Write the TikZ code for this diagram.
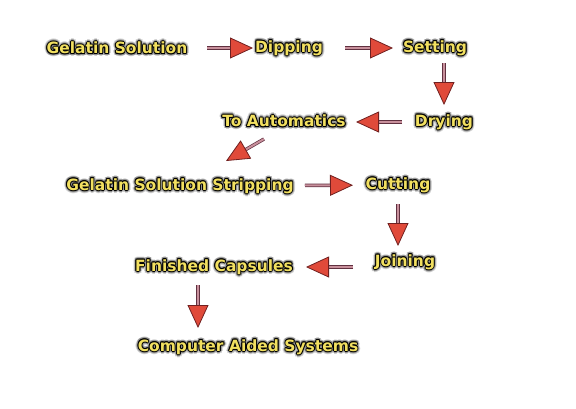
\documentclass[tikz,border=0pt]{standalone}
\usepackage{fontspec}
\setmainfont{DejaVu Sans}
\usetikzlibrary{arrows.meta,calc}
\definecolor{txtc}{HTML}{F2E060}
\definecolor{glowa}{HTML}{D0D0D0}
\definecolor{glowb}{HTML}{909090}
\definecolor{shaftc}{HTML}{C8909C}
\definecolor{shaftout}{HTML}{603040}
\definecolor{headc}{HTML}{E04A3A}
\definecolor{headout}{HTML}{702020}
\newcommand\shb[3]{\rlap{\kern#1\raisebox{#2}{\color{#3}\copy0}}}
\newcommand\fancy[1]{\setbox0\hbox{\bfseries #1}\leavevmode
  \shb{-2.8pt}{0pt}{glowa}\shb{2.8pt}{0pt}{glowa}\shb{0pt}{2.8pt}{glowa}\shb{0pt}{-2.8pt}{glowa}%
  \shb{-2pt}{2pt}{glowa}\shb{2pt}{2pt}{glowa}\shb{-2pt}{-2pt}{glowa}\shb{2pt}{-2pt}{glowa}%
  \shb{-1.8pt}{0pt}{glowb}\shb{1.8pt}{0pt}{glowb}\shb{0pt}{1.8pt}{glowb}\shb{0pt}{-1.8pt}{glowb}%
  \shb{-1.3pt}{1.3pt}{glowb}\shb{1.3pt}{1.3pt}{glowb}\shb{-1.3pt}{-1.3pt}{glowb}\shb{1.3pt}{-1.3pt}{glowb}%
  \shb{-0.9pt}{0pt}{black}\shb{0.9pt}{0pt}{black}\shb{0pt}{0.9pt}{black}\shb{0pt}{-0.9pt}{black}%
  \shb{-0.65pt}{0.65pt}{black}\shb{0.65pt}{0.65pt}{black}\shb{-0.65pt}{-0.65pt}{black}\shb{0.65pt}{-0.65pt}{black}%
  {\color{txtc}\copy0}}
\tikzset{
  lbl/.style={inner sep=0pt, font=\fontsize{15.5}{18}\selectfont},
  flow/.style={draw=shaftc, line width=2pt,
    preaction={draw=shaftout, line width=3.4pt, -, shorten >=12pt},
    -{Triangle[length=23pt,width=21pt,fill=headc,color=headout,line width=0.8pt]}},
}
\begin{document}
\begin{tikzpicture}[x=1pt,y=-1pt]
\useasboundingbox[fill=white] (0,0) rectangle (576,408);
\node[lbl] (gs)  at (117,48)  {\fancy{Gelatin Solution}};
\node[lbl] (dip) at (289,48)  {\fancy{Dipping}};
\node[lbl] (set) at (435,48)  {\fancy{Setting}};
\node[lbl] (dry) at (444,122) {\fancy{Drying}};
\node[lbl] (ta)  at (284,121) {\fancy{To Automatics}};
\node[lbl] (gss) at (180,186) {\fancy{Gelatin Solution Stripping}};
\node[lbl] (cut) at (398,185) {\fancy{Cutting}};
\node[lbl] (joi) at (405,262) {\fancy{Joining}};
\node[lbl] (fc)  at (214,267) {\fancy{Finished Capsules}};
\node[lbl] (cas) at (248,347) {\fancy{Computer Aided Systems}};
\coordinate (a5s) at (264,139);
\coordinate (a5e) at (226,161);
\coordinate (a9) at ([xshift=-16pt]fc.center);
\draw[flow] ($(gs)!90pt!(dip)$) -- ($(dip)!36pt!(gs)$);
\draw[flow] ($(dip)!56pt!(set)$) -- ($(set)!42pt!(dip)$);
\draw[flow] ($(set -| dry)!15pt!(dry)$) -- ($(dry)!17pt!(set -| dry)$);
\draw[flow] ($(dry)!42pt!(dry -| ta)$) -- ($(dry -| ta)!72pt!(dry)$);
\draw[flow] (a5s) -- (a5e);
\draw[flow] ($(gss)!125pt!(cut)$) -- ($(cut)!45pt!(gss)$);
\draw[flow] ($(cut)!19pt!(cut |- joi)$) -- ($(cut |- joi)!16pt!(cut)$);
\draw[flow] ($(fc -| joi)!52pt!(fc)$) -- ($(fc)!92pt!(fc -| joi)$);
\draw[flow] ($(a9)!18pt!(a9 |- cas)$) -- ($(a9 |- cas)!19pt!(a9)$);
\end{tikzpicture}
\end{document}
